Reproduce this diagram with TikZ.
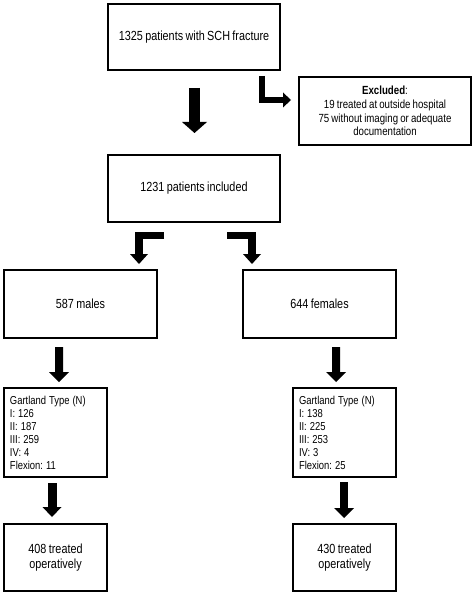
\documentclass[tikz,border=0pt]{standalone}
\usepackage{fontspec}
\setmainfont[FakeStretch=0.82,WordSpace=0.8]{Liberation Sans}
\usetikzlibrary{arrows.meta,calc}
\begin{document}
\frenchspacing
\begin{tikzpicture}[x=1bp,y=-1bp,
  box/.style={draw,line width=2bp,inner sep=3bp,outer sep=0pt,align=center,
    font=\fontsize{13.2bp}{15bp}\selectfont},
  bigbox/.style={box,minimum width=172bp},
  sexbox/.style={box,minimum width=153bp,minimum height=68bp},
  smallbox/.style={box,minimum width=103bp},
  listbox/.style={draw,line width=2bp,inner xsep=6bp,inner ysep=3bp,outer sep=0pt,
    align=left,text width=91bp,minimum height=89bp,
    font=\fontsize{11.5bp}{13bp}\selectfont,
    execute at begin node={\spaceskip=3bp\relax}},
  arr/.style n args={3}{line width=#1,line join=miter,
    -{Triangle[length=#2,width=#3,line width=0pt]}}
]
\useasboundingbox (0,0) rectangle (474,593);

\node[bigbox,minimum height=66bp] (top) at (194,37) {1325 patients with SCH fracture};
\node[bigbox,minimum height=68bp,font=\fontsize{11.8bp}{13.8bp}\selectfont] (excl) at (385,111)
  {\textbf{Excluded}:\\19 treated at outside hospital\\75 without imaging or adequate\\documentation};
\node[bigbox,minimum height=67bp] (incl) at (194,188.5) {1231 patients included};
\node[sexbox] (males) at (80.5,304) {587 males};
\node[sexbox] (fem) at (319.5,304) {644 females};
\node[listbox] (gm) at (55.5,432.5) {Gartland Type (N)\\I: 126\\II: 187\\III: 259\\IV: 4\\Flexion: 11};
\node[listbox] (gf) at (344.5,432.5) {Gartland Type (N)\\I: 138\\II: 225\\III: 253\\IV: 3\\Flexion: 25};
\node[smallbox,minimum height=67bp] (tm) at (55.5,557.5) {408 treated\\operatively};
\node[smallbox,minimum height=67bp] (tf) at (344.5,557.5) {430 treated\\operatively};

\draw[arr={11bp}{11bp}{25bp}] ($(top.south)+(0.5,18)$) -- ($(incl.north)+(0.5,-22)$);
\draw[arr={6bp}{8bp}{15bp}] ($(top.south east)+(-18,6)$) |- ($(excl.west)+(-8,-11)$);
\draw[arr={7.5bp}{10bp}{18bp}] ($(incl.south)+(-30,13.5)$) -| ($(males.north)+(58.5,-6)$);
\draw[arr={7.5bp}{10bp}{18bp}] ($(incl.south)+(33,13.5)$) -| ($(fem.north)+(-67.5,-6)$);
\draw[arr={8bp}{10bp}{20bp}] ($(males.south)+(-21.5,9)$) -- ($(gm.north)+(3.5,-6)$);
\draw[arr={8bp}{10bp}{20bp}] ($(fem.south)+(16.5,9)$) -- ($(gf.north)+(-8.5,-6)$);
\draw[arr={9bp}{10bp}{19bp}] ($(gm.south)+(-3.5,6)$) -- ($(tm.north)+(-3.5,-7)$);
\draw[arr={8bp}{10bp}{20bp}] ($(gf.south)+(-0.5,5)$) -- ($(tf.north)+(-0.5,-6)$);
\end{tikzpicture}
\end{document}
